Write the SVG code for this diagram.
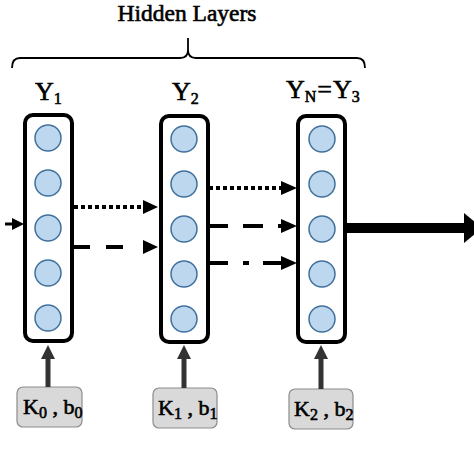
<svg xmlns="http://www.w3.org/2000/svg" width="474" height="474" viewBox="0 0 474 474">
<style>
.layer{fill:#fff;stroke:#000;stroke-width:4}
.node{fill:#bdd7ee;stroke:#41719c;stroke-width:1.5}
.param{fill:#d9d9d9;stroke:#8c8c8c;stroke-width:1.2}
.t{font-family:"Liberation Serif","DejaVu Serif",serif;fill:#000;stroke:#000;stroke-width:0.6}
.lbl{font-size:26px}
.sub{font-size:16px}
.ptxt{font-size:22px}
.c{stroke:#000;stroke-width:4;fill:none}
.up{stroke:#333;stroke-width:5;fill:none}
</style>
<rect width="474" height="474" fill="#fff"/>
<g id="title">
<text class="t" x="187" y="21" font-size="23.5" text-anchor="middle">Hidden Layers</text>
<path d="M12,68 Q12,58 20,58 L180,58 Q188,58 188,50 L188,38 M188,50 Q188,58 196,58 L357,58 Q365,58 365,68" fill="none" stroke="#000" stroke-width="1.8"/>
</g>
<g id="layer1">
<text class="t lbl" x="35" y="100">Y<tspan class="sub" dy="4">1</tspan></text>
<rect class="layer" x="25" y="115" width="47" height="226" rx="8"/>
<circle class="node" cx="48" cy="138" r="13"/>
<circle class="node" cx="48" cy="183" r="13"/>
<circle class="node" cx="48" cy="228" r="13"/>
<circle class="node" cx="48" cy="273" r="13"/>
<circle class="node" cx="48" cy="318" r="13"/>
</g>
<g id="layer2">
<text class="t lbl" x="172" y="100">Y<tspan class="sub" dy="4">2</tspan></text>
<rect class="layer" x="161" y="116" width="47" height="226" rx="8"/>
<circle class="node" cx="184" cy="139" r="13"/>
<circle class="node" cx="184" cy="184" r="13"/>
<circle class="node" cx="184" cy="229" r="13"/>
<circle class="node" cx="184" cy="274" r="13"/>
<circle class="node" cx="184" cy="319" r="13"/>
</g>
<g id="layer3">
<text class="t lbl" x="286" y="98">Y<tspan class="sub" dy="4">N</tspan><tspan dy="-4" dx="1">=</tspan><tspan dx="1">Y</tspan><tspan class="sub" dy="4">3</tspan></text>
<rect class="layer" x="298" y="116" width="47" height="226" rx="8"/>
<circle class="node" cx="322" cy="139" r="13"/>
<circle class="node" cx="322" cy="184" r="13"/>
<circle class="node" cx="322" cy="229" r="13"/>
<circle class="node" cx="322" cy="274" r="13"/>
<circle class="node" cx="322" cy="319" r="13"/>
</g>
<g id="param0">
<rect class="param" x="17" y="387" width="65" height="40" rx="6"/>
<text class="t ptxt" x="23" y="414">K<tspan class="sub" dy="4">0</tspan><tspan dy="-4"> , b</tspan><tspan class="sub" dy="4">0</tspan></text>
</g>
<g id="param1">
<rect class="param" x="153" y="388" width="64" height="40" rx="6"/>
<text class="t ptxt" x="158" y="415">K<tspan class="sub" dy="4">1</tspan><tspan dy="-4"> , b</tspan><tspan class="sub" dy="4">1</tspan></text>
</g>
<g id="param2">
<rect class="param" x="289" y="389" width="64" height="40" rx="6"/>
<text class="t ptxt" x="294" y="416">K<tspan class="sub" dy="4">2</tspan><tspan dy="-4"> , b</tspan><tspan class="sub" dy="4">2</tspan></text>
</g>
<g id="connectors">
<line x1="5" y1="224" x2="13" y2="224" stroke="#000" stroke-width="3"/>
<polygon points="12,218 24,224 12,230" fill="#000"/>
<line class="c" x1="74" y1="207" x2="143" y2="207" stroke-dasharray="4 3"/>
<polygon points="143,200 158,207 143,214" fill="#000"/>
<line class="c" x1="73" y1="247" x2="125" y2="247" stroke-dasharray="17 16"/>
<polygon points="143,240 158,247 143,254" fill="#000"/>
<line class="c" x1="209" y1="188" x2="281" y2="188" stroke-dasharray="4 3"/>
<polygon points="281,181 297,188 281,195" fill="#000"/>
<line class="c" x1="208" y1="226" x2="263" y2="226" stroke-dasharray="20 15"/>
<line class="c" x1="278" y1="226" x2="282" y2="226"/>
<polygon points="281,219 297,226 281,233" fill="#000"/>
<line class="c" x1="208" y1="263" x2="228" y2="263"/>
<line class="c" x1="243" y1="263" x2="249" y2="263"/>
<line class="c" x1="263" y1="263" x2="282" y2="263"/>
<polygon points="281,256 297,263 281,270" fill="#000"/>
<line x1="345" y1="228" x2="466" y2="228" stroke="#000" stroke-width="10"/>
<polygon points="464,213 482,228 464,243" fill="#000"/>
<line class="up" x1="48" y1="387" x2="48" y2="358"/>
<polygon points="41,359 48,345 55,359" fill="#333"/>
<line class="up" x1="184" y1="388" x2="184" y2="358"/>
<polygon points="177,359 184,345 191,359" fill="#333"/>
<line class="up" x1="321" y1="389" x2="321" y2="358"/>
<polygon points="314,359 321,345 328,359" fill="#333"/>
</g>
</svg>
